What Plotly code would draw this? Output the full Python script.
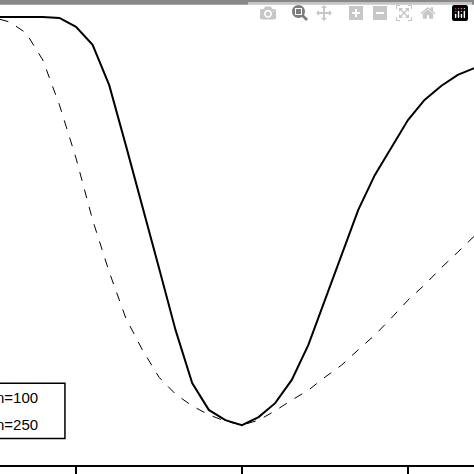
import plotly.graph_objects as go

# x grid and curve values
x = [-1.46, -1.4, -1.3, -1.2, -1.1, -1.0, -0.9, -0.8, -0.7, -0.6, -0.5, -0.4, -0.3, -0.2, -0.1,
     0.0, 0.1, 0.2, 0.3, 0.4, 0.5, 0.6, 0.7, 0.8, 0.9, 1.0, 1.1, 1.2, 1.3, 1.4]
y_n100 = [1.0, 1.0, 1.0, 1.0, 0.998, 0.978, 0.938, 0.848, 0.714, 0.58, 0.44, 0.301, 0.183, 0.123, 0.1,
          0.089, 0.107, 0.138, 0.19, 0.268, 0.368, 0.469, 0.569, 0.647, 0.71, 0.77, 0.815, 0.846, 0.871, 0.886]
y_n250 = [0.995, 0.989, 0.964, 0.904, 0.804, 0.685, 0.547, 0.431, 0.328, 0.257, 0.196, 0.158, 0.132, 0.112, 0.098,
          0.089, 0.1, 0.121, 0.145, 0.167, 0.196, 0.223, 0.257, 0.29, 0.328, 0.368, 0.402, 0.44, 0.475, 0.511]
labels = ["n=100", "n=250"]
xticks = [-1, 0, 1]

fig = go.Figure()
fig.add_trace(go.Scatter(x=x, y=y_n100, mode="lines", line=dict(color="black", width=2), name=labels[0]))
fig.add_trace(go.Scatter(x=x, y=y_n250, mode="lines", line=dict(color="black", width=1, dash="dash"), name=labels[1]))

# legend box, cut off at the left edge like the reference
fig.add_shape(type="rect", xref="paper", yref="paper", x0=-0.01, x1=0.137, y0=0.057, y1=0.176,
              line=dict(color="black", width=1.5), fillcolor="white")
for i, lab in enumerate(labels):
    fig.add_annotation(text=lab, xref="paper", yref="paper", x=0.085, y=0.145 - i * 0.058,
                       xanchor="right", yanchor="middle", showarrow=False,
                       font=dict(family="Liberation Sans", size=15, color="black"))
# gray band at the top
fig.add_shape(type="rect", xref="paper", yref="paper", x0=0, x1=1, y0=0.99, y1=1.02,
              line=dict(width=0), fillcolor="#888888", layer="above")

fig.update_layout(
    width=474, height=474, margin=dict(l=0, r=0, t=0, b=9),
    plot_bgcolor="white", paper_bgcolor="white", showlegend=False,
    xaxis=dict(range=[-1.458, 1.398], tickvals=xticks, showticklabels=False, ticks="outside",
               ticklen=10, tickwidth=1.5, tickcolor="black", showline=True, linecolor="black",
               linewidth=2, showgrid=False, zeroline=False),
    yaxis=dict(range=[0, 1.038], visible=False, showgrid=False),
)
fig.write_html("out.html", post_script="document.body.style.margin='0';")
